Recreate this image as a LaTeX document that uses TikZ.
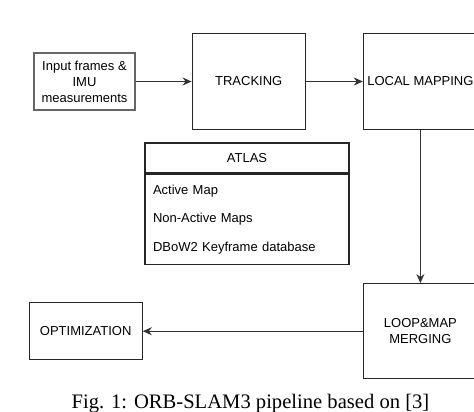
\documentclass[tikz,border=0pt]{standalone}
\usepackage{fontspec}
\setmainfont{Liberation Sans}
\newfontfamily\capfont{Liberation Serif}
\usetikzlibrary{arrows.meta, positioning}

\begin{document}
\begin{tikzpicture}[x=1pt,y=-1pt,->,>={Stealth[length=9pt,width=8pt]},
	every node/.style={font=\fontsize{13}{16}\selectfont},
	block/.style={draw=black!85,line width=1.2pt,minimum width=113pt,inner sep=0pt,align=center},
	flow/.style={draw=black!80,line width=1.3pt}]
	\useasboundingbox (0,0) rectangle (474,412);

	\node[block,draw=black!60,minimum width=101pt,minimum height=57pt] (in) at (84.5,81.5) {Input frames \&\\IMU\\measurements};
	\node[block,minimum height=96pt] (track) [right=56pt of in] {TRACKING};
	\node[block,minimum width=114pt,minimum height=96pt] (local) [right=57pt of track] {LOCAL MAPPING};
	\node[block,minimum width=114pt,minimum height=95pt] (loop) [below=153pt of local] {LOOP\&MAP\\MERGING};
	\node[block,minimum height=57pt] (opt) [left=220pt of loop] {OPTIMIZATION};

	\node[block,minimum width=204pt,minimum height=30pt] (atlas) at (247,158) {ATLAS};
	\node[block,minimum width=204pt,minimum height=90pt,text width=188pt,align=left,
		font=\fontsize{13}{28.5}\selectfont] (maps) [below=0pt of atlas]
		{Active Map\\Non-Active Maps\\DBoW2 Keyframe database};

	\path (in) edge[flow] (track);
	\path (track) edge[flow] (local);
	\path (local) edge[flow] (loop);
	\path (loop) edge[flow] (opt);

	\node[anchor=base,font=\capfont\fontsize{20.6}{24}\selectfont] (cap) at (250.5,408)
		{Fig. 1: ORB-SLAM3 pipeline based on [3]};
\end{tikzpicture}
\end{document}
